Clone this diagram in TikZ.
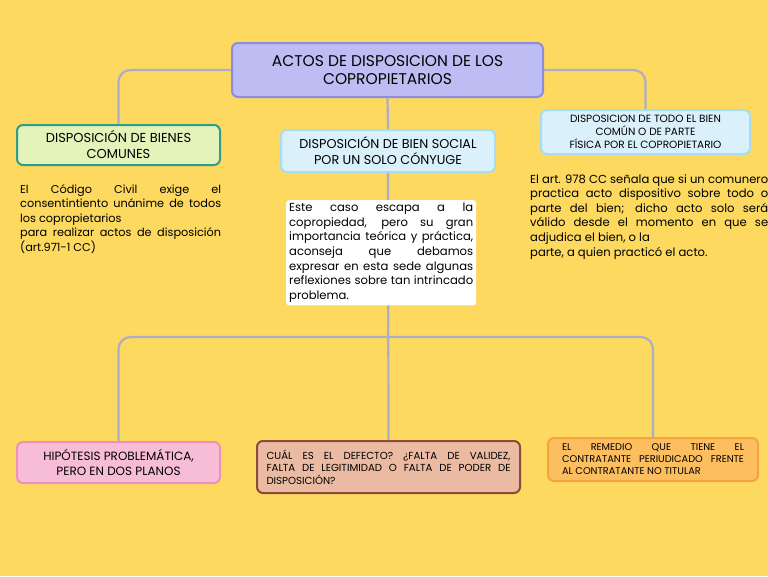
\documentclass[tikz,border=0pt]{standalone}
\usepackage{fontspec}
\setmainfont{Poppins}
\usepackage{ragged2e}
\definecolor{bg}{HTML}{FDD95F}
\definecolor{lineC}{HTML}{A9AECB}
\definecolor{rootF}{HTML}{BDBDF4}\definecolor{rootD}{HTML}{8C8CE0}
\definecolor{lF}{HTML}{E4F3BA}\definecolor{lD}{HTML}{2E9E8A}
\definecolor{bF}{HTML}{DAF0FA}\definecolor{bD}{HTML}{A8DCF0}
\definecolor{pF}{HTML}{F8BDD6}\definecolor{pD}{HTML}{EE90BE}
\definecolor{brF}{HTML}{EABBA2}\definecolor{brD}{HTML}{8B4A3A}
\definecolor{oF}{HTML}{FDBE60}\definecolor{oD}{HTML}{F2A442}
\newcommand{\nohy}{\hyphenpenalty=10000\exhyphenpenalty=10000\parindent=0pt}
\begin{document}
\begin{tikzpicture}[x=1pt,y=-1pt,
  conn/.style={draw=lineC,line width=2.2pt,rounded corners=12pt},
  box/.style={rounded corners=6pt,line width=2pt,align=center,inner sep=2pt},
  para/.style={font=\fontsize{11.3}{14.6}\selectfont\nohy,text width=#1,align=justify,inner sep=0pt}]
\fill[bg] (0,0) rectangle (768,576);
\useasboundingbox (0,0) rectangle (768,576);
% nodes
\node[box,fill=rootF,draw=rootD,minimum width=311pt,minimum height=54pt,font=\fontsize{15.5}{18}\selectfont] (root) at (387.5,70) {ACTOS DE DISPOSICION DE LOS\\COPROPIETARIOS};
\node[box,fill=lF,draw=lD,minimum width=203pt,minimum height=40pt,font=\fontsize{13}{16}\selectfont] (l) at (118.5,145) {DISPOSICIÓN DE BIENES\\COMUNES};
\node[box,fill=bF,draw=bD,minimum width=214pt,minimum height=42pt,font=\fontsize{12.8}{16}\selectfont] (m) at (388,151) {DISPOSICIÓN DE BIEN SOCIAL\\POR UN SOLO CÓNYUGE};
\node[box,fill=bF,draw=bD,minimum width=209pt,minimum height=44pt,font=\fontsize{10.5}{13}\selectfont] (r) at (645.5,132) {DISPOSICION DE TODO EL BIEN\\COMÚN O DE PARTE\\FÍSICA POR EL COPROPIETARIO};
\node[box,fill=pF,draw=pD,minimum width=203pt,minimum height=41pt,font=\fontsize{12}{15}\selectfont] (b1) at (118.5,462.5) {HIPÓTESIS PROBLEMÁTICA,\\PERO EN DOS PLANOS};
\node[box,fill=brF,draw=brD,minimum width=263pt,minimum height=52pt,text width=244pt,font=\fontsize{10.2}{12.5}\selectfont\nohy,align=justify] (b2) at (388.5,467) {CUÁL ES EL DEFECTO? ¿FALTA DE VALIDEZ,\linebreak FALTA DE LEGITIMIDAD O FALTA DE PODER DE DISPOSICIÓN?};
\node[box,fill=oF,draw=oD,minimum width=210pt,minimum height=43pt,text width=182pt,font=\fontsize{9.8}{12}\selectfont\nohy,align=justify] (b3) at (653,459.5) {EL REMEDIO QUE TIENE EL CONTRATANTE PERIUDICADO FRENTE AL CONTRATANTE NO TITULAR};
% connectors
\draw[conn] (root.west) -| (l.north);
\draw[conn] (root.east) -| (r.north);
\draw[conn] (root.south) -- (m.north);
\draw[conn] (m.south) -- (b2.north);
\coordinate (h) at (387,337);
\draw[conn] (h) -| (b1.north);
\draw[conn] (h) -| (b3.north);
% texts
\node[para=201pt,anchor=north west] (tl) at (20,184) {El Código Civil exige el consentintiento unánime de todos los copropietarios\\para realizar actos de disposición (art.971-1 CC)};
\node[fill=white,rounded corners=3pt,inner sep=3pt,anchor=north west] (tm) at (286,200) {\parbox{184pt}{\fontsize{11.6}{14.6}\selectfont\justifying\nohy\noindent Este caso escapa a la copropiedad, pero su gran importancia teórica y práctica, aconseja que debamos expresar en esta sede algunas reflexiones sobre tan intrincado problema.}};
\node[para=238pt,anchor=north west,font=\fontsize{11.6}{14.6}\selectfont\nohy] (tr) at (530,174) {El art. 978 CC señala que si un comunero practica acto dispositivo sobre todo o parte del bien; dicho acto solo será\linebreak válido desde el momento en que se adjudica el bien, o la\\parte, a quien practicó el acto.};
\end{tikzpicture}
\end{document}
